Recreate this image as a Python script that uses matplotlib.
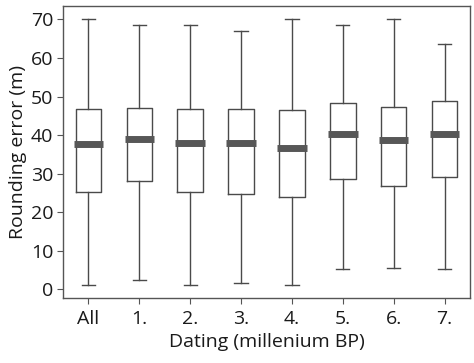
import matplotlib
matplotlib.use("Agg")
import matplotlib.pyplot as plt

plt.rcParams['font.family'] = ['Open Sans', 'DejaVu Sans']

labels = ['All', '1.', '2.', '3.', '4.', '5.', '6.', '7.']
whislo = [1.0, 2.3, 1.0, 1.5, 1.0, 5.2, 5.5, 5.2]
q1 = [25.1, 28.1, 25.2, 24.8, 24.0, 28.6, 26.8, 29.0]
med = [37.7, 39.1, 38.0, 37.9, 36.7, 40.2, 38.6, 40.4]
q3 = [46.7, 47.1, 46.8, 46.7, 46.4, 48.4, 47.4, 48.9]
whishi = [70.0, 68.5, 68.5, 67.1, 70.0, 68.5, 70.0, 63.7]

stats = []
for i in range(len(labels)):
    stats.append({'label': labels[i], 'whislo': whislo[i], 'q1': q1[i],
                  'med': med[i], 'q3': q3[i], 'whishi': whishi[i], 'fliers': []})

fig = plt.figure(figsize=(4.74, 3.63), dpi=100)
ax = fig.add_axes([63 / 474, 1 - 298 / 363, 407 / 474, 292 / 363])

edge = '#4a4a4a'
res = ax.bxp(stats, positions=range(1, len(labels) + 1), widths=0.5, showfliers=False,
             boxprops=dict(color=edge, linewidth=1.0),
             whiskerprops=dict(color=edge, linewidth=1.0),
             capprops=dict(color=edge, linewidth=1.0),
             medianprops=dict(color='#575757', linewidth=5, solid_capstyle='butt'),
             capwidths=0.26)
# median bar sticks out a little past the box
for m in res['medians']:
    xd = m.get_xdata()
    c = (xd[0] + xd[1]) / 2
    m.set_xdata([c - 0.29, c + 0.29])

ax.set_xlim(0.5, 8.5)
ax.set_ylim(-2.3, 73.5)
ax.set_yticks(range(0, 71, 10))
ax.set_xticks(range(1, len(labels) + 1))
ax.set_xticklabels(labels)
for s in ax.spines.values():
    s.set_color('#555555')
    s.set_linewidth(1.0)
ax.tick_params(colors='#555555', labelcolor='#1a1a1a', labelsize=14, length=4, pad=3)
ax.tick_params(axis='x', pad=5)
ax.set_xlabel('Dating (millenium BP)', fontsize=14, color='#1a1a1a', labelpad=3)
ax.set_ylabel('Rounding error (m)', fontsize=14, color='#1a1a1a', labelpad=3)

fig.savefig('out.png', dpi=100)
